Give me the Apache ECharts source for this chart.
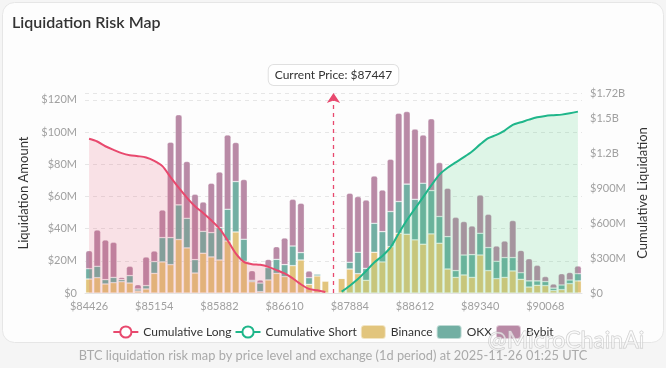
<!DOCTYPE html>
<html>
<head>
<meta charset="utf-8">
<script src="https://cdn.jsdelivr.net/npm/echarts@6/dist/echarts.min.js"></script>
<style>
html,body{margin:0;padding:0;background:#f5f5f5;}
#c{width:666px;height:368px;}
</style>
</head>
<body>
<div id="c"></div>
<script>
const priceLevels = ['$84426','$84517','$84608','$84699','$84790','$84881','$84972','$85063','$85154','$85245',
  '$85336','$85427','$85518','$85609','$85700','$85791','$85882','$85973','$86064','$86155',
  '$86246','$86337','$86428','$86519','$86610','$86701','$86792','$86883','$86974','$87065',
  '$87447',
  '$87793','$87884','$87975','$88066','$88157','$88248','$88339','$88430','$88521','$88612',
  '$88703','$88794','$88885','$88976','$89067','$89158','$89249','$89340','$89431','$89522',
  '$89613','$89704','$89795','$89886','$89977','$90068','$90159','$90250','$90341','$90432'];
const currentPrice = '$87447';

// values in $M
const binance = [8.7,9.5,5.6,6.4,7.0,6.2,1.2,2.5,12.2,19.3,17.6,33.2,28.0,12.4,24.7,22.4,20.5,32.3,37.9,19.7,
  7.0,0.8,8.1,12.2,10.2,17.0,20.5,5.4,10.6,7.5,
  null,
  9.1,14.9,12.0,7.9,25.3,19.3,28.8,37.1,36.5,33.0,30.3,36.7,30.9,14.9,9.7,11.2,9.7,23.6,13.9,8.9,
  9.7,13.7,8.5,3.7,4.8,4.6,1.5,2.1,5.8,7.5];
const okx = [6.4,7.1,2.7,3.3,1.3,4.6,1.3,2.1,7.3,15.1,16.8,21.5,18.4,8.3,13.6,15.1,20.1,19.7,31.3,13.7,
  0.9,5.4,7.7,8.7,7.4,12.2,4.6,4.1,1.2,0,
  null,
  0,4.2,13.3,7.4,18.0,18.8,21.8,19.7,31.1,25.2,37.9,26.9,16.6,20.1,4.2,12.4,14.1,13.5,14.3,10.8,
  12.3,8.3,4.1,3.8,2.7,2.5,1.5,2.9,2.3,4.5];
const bybit = [11.2,22.6,24.7,21.8,1.4,5.8,2.7,17.8,6.6,17.2,59.3,56.0,35.3,40.6,18.3,30.7,34.6,46.2,24.3,37.1,
  6.0,1.9,5.1,7.9,16.6,29.0,30.7,4.2,0,0,
  null,
  0,42.9,34.6,42.5,29.4,25.9,32.5,54.9,45.1,43.6,30.0,44.6,33.5,30.1,33.1,20.8,17.9,23.8,20.7,9.5,
  10.3,23.0,13.9,13.8,9.7,3.1,2.6,7.0,4.7,4.8];

// cumulative, $M (right axis)
const cumLong = [1326,1303,1262,1231,1203,1185,1177,1166,1137,1091,997,906,821,746,688,625,554,454,341,268,
  248,242,225,197,168,126,75,35,23,9];
const cumShort = [12,63,120,189,263,319,392,512,625,726,825,925,1018,1077,1123,1168,1217,1278,1331,1360,
  1397,1446,1468,1491,1511,1523,1529,1534,1545,1560];

const leftTicks = {min:0, max:124.2, interval:20};
const rightTicks = {min:0, max:1720, interval:300};

const longData = cumLong.concat(new Array(priceLevels.length - cumLong.length).fill(null));
const shortData = new Array(priceLevels.length - cumShort.length).fill(null).concat(cumShort);

const FONT = 'Lato, "Noto Sans", sans-serif';
const C_BIN = '#e2c57d', C_OKX = '#72afa3', C_BYB = '#b98aa6', C_LONG = '#e8496e', C_SHORT = '#1fb68a';

const chart = echarts.init(document.getElementById('c'), null, {renderer:'canvas'});
const barBorder = {borderColor:'rgba(255,255,255,0.55)', borderWidth:0.6};
chart.setOption({
  animation:false,
  textStyle:{fontFamily:FONT},
  graphic:[
    {type:'rect', z:-10, shape:{x:2.5,y:2.5,width:661,height:340,r:12}, style:{fill:'#fdfdfd', stroke:'#e6e6e6', lineWidth:1}},
    {type:'text', left:12, top:15, style:{text:'Liquidation Risk Map', fontSize:16, fontWeight:600, fill:'#333', fontFamily:FONT}},
    {type:'text', left:'center', top:349, style:{text:'BTC liquidation risk map by price level and exchange (1d period) at 2025-11-26 01:25 UTC', fontSize:12.8, fill:'#aaa', fontFamily:FONT}},
    {type:'text', left:487, top:329, z:100, style:{text:'@MicroChainAi', fontSize:23, fill:'rgba(255,255,255,0.6)', stroke:'rgba(180,180,180,0.7)', lineWidth:1, fontFamily:FONT}}
  ],
  legend:{
    top:319, left:'center', itemWidth:25, itemHeight:14, itemGap:3,
    textStyle:{fontSize:12, color:'#333', fontFamily:FONT},
    data:['Cumulative Long','Cumulative Short','Binance','OKX','Bybit']
  },
  grid:{left:85, right:84, top:93, bottom:75},
  xAxis:{
    type:'category', data:priceLevels,
    axisLine:{lineStyle:{color:'#e3e3e3'}}, axisTick:{show:false},
    axisLabel:{interval:7, color:'#a0a0a0', fontSize:11, margin:8, fontFamily:FONT}
  },
  yAxis:[
    {type:'value', min:leftTicks.min, max:leftTicks.max, interval:leftTicks.interval,
     name:'Liquidation Amount', nameLocation:'middle', nameGap:50, nameTextStyle:{fontSize:13, color:'#333', fontFamily:FONT},
     axisLine:{show:false}, axisTick:{show:false},
     splitLine:{lineStyle:{type:[4,4], color:'#e6e6e6'}},
     axisLabel:{color:'#a0a0a0', fontSize:11, margin:8, fontFamily:FONT,
       formatter:v => (Math.abs(v % 20) > 1e-6 ? '' : (v === 0 ? '$0' : '$' + v + 'M'))}},
    {type:'value', min:rightTicks.min, max:rightTicks.max, interval:rightTicks.interval,
     name:'Cumulative Liquidation', nameLocation:'middle', nameGap:52, nameTextStyle:{fontSize:13, color:'#333', fontFamily:FONT},
     axisLine:{show:false}, axisTick:{show:false}, splitLine:{show:false},
     axisLabel:{color:'#a0a0a0', fontSize:11, margin:8, fontFamily:FONT,
       formatter:v => v === 0 ? '$0' : (v >= 1000 ? '$' + (v/1000) + 'B' : '$' + v + 'M')}}
  ],
  series:[
    {name:'Binance', type:'bar', stack:'ex', data:binance, barCategoryGap:'16%',
     itemStyle:Object.assign({color:C_BIN}, barBorder),
     markLine:{
       silent:true, symbol:['none','arrow'], symbolSize:10,
       lineStyle:{type:[4,4], color:C_LONG, width:1.3},
       label:{show:true, position:'end', formatter:'Current Price: ' + currentPrice, distance:8,
         backgroundColor:'#fff', borderColor:'#e0e0e0', borderWidth:1, borderRadius:5,
         padding:[4,6], color:'#333', fontSize:12, fontFamily:FONT},
       data:[{xAxis:currentPrice}]
     }},
    {name:'OKX', type:'bar', stack:'ex', data:okx, itemStyle:Object.assign({color:C_OKX}, barBorder)},
    {name:'Bybit', type:'bar', stack:'ex', data:bybit, itemStyle:Object.assign({color:C_BYB, borderRadius:[2,2,0,0]}, barBorder)},
    {name:'Cumulative Long', type:'line', yAxisIndex:1, data:longData, smooth:0.3, showSymbol:false, symbol:'emptyCircle', symbolSize:8,
     lineStyle:{color:C_LONG, width:2}, itemStyle:{color:C_LONG},
     areaStyle:{color:'rgba(228,80,112,0.23)'}},
    {name:'Cumulative Short', type:'line', yAxisIndex:1, data:shortData, smooth:0.3, showSymbol:false, symbol:'emptyCircle', symbolSize:8,
     lineStyle:{color:C_SHORT, width:2}, itemStyle:{color:C_SHORT},
     areaStyle:{color:'rgba(60,205,120,0.23)'}}
  ]
});
</script>
</body>
</html>
